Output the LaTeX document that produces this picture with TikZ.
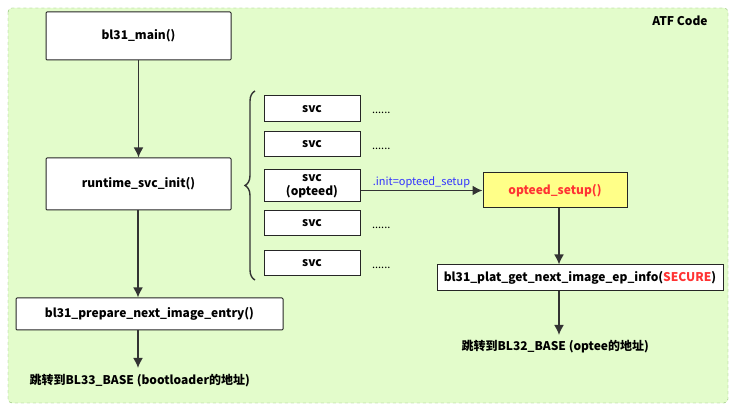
\documentclass[tikz,border=0pt]{standalone}
\usepackage{fontspec}
\setmainfont{Noto Sans CJK SC}
\usetikzlibrary{decorations.pathreplacing,arrows.meta}
\definecolor{bgfill}{HTML}{E3FCCB}
\definecolor{bgline}{HTML}{82B366}
\definecolor{ylw}{HTML}{FFFF88}
\definecolor{redt}{HTML}{FF3333}
\definecolor{bluet}{HTML}{3333FF}
\begin{document}
\begin{tikzpicture}[x=1pt,y=-1pt,
  box/.style={draw=black!85,fill=white,line width=1pt,rounded corners=1pt,font=\fontsize{12}{14}\selectfont\bfseries,inner sep=0pt,align=center},
  arr/.style={draw=black!80,line width=1.8pt,-{Latex[length=10pt,width=10pt]}},
  lbl/.style={font=\fontsize{12}{14}\selectfont\bfseries},
  dots/.style={font=\fontsize{11}{12}\selectfont}]
\useasboundingbox (0,0) rectangle (736,411);
\draw[bgline,dashed,fill=bgfill,rounded corners=4pt] (8,8) rectangle (728,403);
\node[lbl] (atf) at (680,21) {ATF Code};
\node[box,minimum width=185,minimum height=48] (main) at (138.5,36) {bl31\_main()};
\node[box,minimum width=185,minimum height=52] (init) at (138.5,184) {runtime\_svc\_init()};
\node[box,minimum width=267,minimum height=32] (prep) at (149.5,314) {bl31\_prepare\_next\_image\_entry()};
\node[lbl,anchor=west] (bl33) at (26,381) {跳转到BL33\_BASE (bootloader的地址)};
\draw[arr] (main) -- (init);
\coordinate (p33) at (138,368);
\draw[arr] (init.south -| p33) -- (prep.north -| p33);
\draw[arr] (prep.south -| p33) -- (p33);
\draw[line width=1.4pt,black!80,decorate,decoration={brace,amplitude=10pt}] (255,280) -- (255,91);
\foreach \n/\y/\h/\t in {s1/109/26/svc,s2/144.5/25/svc,s3/186/32/{svc\\(opteed)},s4/223.5/25/svc,s5/263.5/25/svc}{
  \node[box,rounded corners=0pt,minimum width=96,minimum height=\h] (\n) at (312,\y) {\t};
}
\foreach \n in {s1,s2,s4,s5}{
  \node[dots,anchor=west] (d\n) at ([xshift=8pt,yshift=-4pt]\n.east) {......};
}
\node[box,rounded corners=0pt,fill=ylw,text=redt,minimum width=144,minimum height=35] (setup) at (555,190.5) {opteed\_setup()};
\draw[arr] (s3.east |- setup.west) -- node[above,font=\fontsize{11}{13}\selectfont,text=bluet,yshift=-2pt] {.init=opteed\_setup} (setup.west);
\node[box,rounded corners=0pt,minimum width=286,minimum height=26] (plat) at (580,278) {bl31\_plat\_get\_next\_image\_ep\_info(\textcolor{redt}{SECURE})};
\coordinate (p32) at (559,335);
\draw[arr] (setup.south -| p32) -- (plat.north -| p32);
\draw[arr] (plat.south -| p32) -- (p32);
\node[lbl,anchor=west] (bl32) at (458,347) {跳转到BL32\_BASE (optee的地址)};
\end{tikzpicture}
\end{document}
